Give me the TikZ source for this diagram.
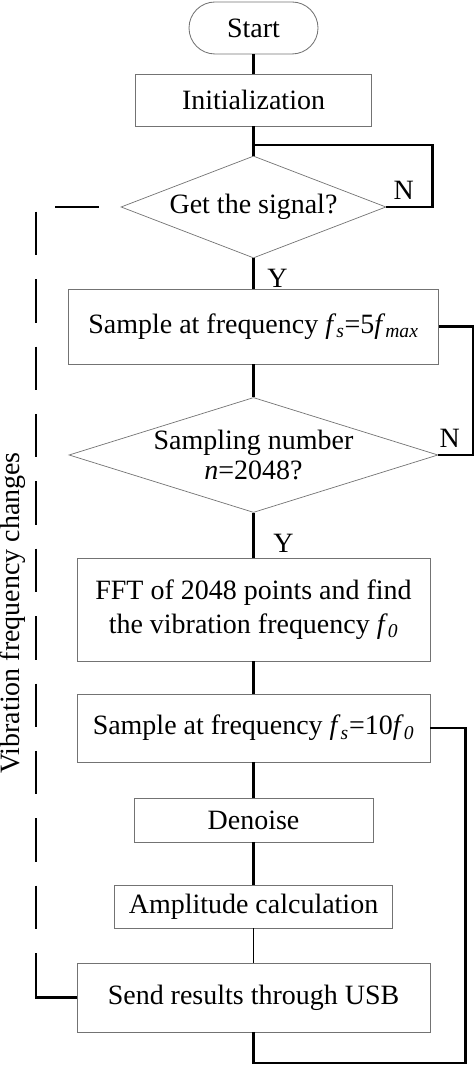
\documentclass[tikz,border=0pt]{standalone}
\usepackage{fontspec}
\setmainfont{Liberation Serif}
\usetikzlibrary{shapes.geometric,positioning}
\newcommand{\fsub}[1]{\textit{f}\textsubscript{\textit{#1}}}

\begin{document}
\begin{tikzpicture}[font=\fontsize{19.9pt}{24pt}\selectfont,
  box/.style={draw=black!55,line width=0.6pt,inner sep=0pt,align=center},
  decision/.style={diamond,draw=black!55,line width=0.5pt,inner xsep=0pt,inner ysep=-3pt,align=center},
  link/.style={line width=1.9pt},
  thinlink/.style={line width=1.1pt},
  vibdash/.style={line width=1.9pt,dash pattern=on 1.0875cm off 0.5975cm,dash phase=1.135cm},
  yn/.style={inner sep=0pt}]
\useasboundingbox (0,0) rectangle (11.85,26.675);
% boxes of the main column
\node[box,rounded corners=0.65cm,minimum width=3.225cm,minimum height=1.3cm] (start) at (6.3375,25.975) {Start};
\node[box,minimum width=5.9cm,minimum height=1.3cm] (init) at (6.3375,24.175) {Initialization};
\node[decision,shape aspect=2.6,minimum width=6.625cm,minimum height=2.55cm] (d1) at (6.3375,21.5) {Get the signal?};
\node[box,minimum width=9.25cm,minimum height=1.875cm] (s1) at (6.3375,18.5125) {Sample at frequency \fsub{s}=5\fsub{max}};
\node[decision,shape aspect=3.21,minimum width=9.225cm,minimum height=2.875cm] (d2) at (6.3375,15.3) {Sampling number\\[-2pt]\textit{n}=2048?};
\node[box,minimum width=8.825cm,minimum height=2.575cm] (fft) at (6.3375,11.4375) {FFT of 2048 points and find\\the vibration frequency \fsub{0}};
\node[box,minimum width=8.825cm,minimum height=1.7cm] (s2) at (6.3375,8.475) {Sample at frequency \fsub{s}=10\fsub{0}};
\node[box,minimum width=5.975cm,minimum height=1.1cm] (dn) at (6.3375,6.175) {Denoise};
\node[box,minimum width=6.95cm,minimum height=1.075cm] (amp) at (6.3375,4.0125) {Amplitude calculation};
\node[box,minimum width=8.825cm,minimum height=1.725cm] (send) at (6.3375,1.7375) {Send results through USB};
\node[rotate=90] (vib) at (0.325,11.35) {Vibration frequency changes};
% Y/N marks
\node[yn,above right=0.175cm and 0.175cm of d1.east] (n1) {N};
\node[yn,above right=0.175cm and 0.025cm of d2.east] (n2) {N};
\node[yn,above right=0.025cm and 0.34cm of s1.north] (y1) {Y};
\node[yn,above right=0.125cm and 0.49cm of fft.north] (y2) {Y};
\coordinate (j1) at (6.3375,23.05);
\coordinate (lp) at (6.3375,0.1);
\coordinate (dc) at (0.9,2.8);
% connectors
\draw[link] (start) -- (init);
\draw[link] (init) -- (d1);
\draw[link] (d1.east) -- ++(1.15,0) |- (j1);
\draw[link] (d1) -- (s1);
\draw[link] (s1) -- (d2);
\draw[link] (s1.east) -- ++(0.85,0) |- (d2.east);
\draw[link] (d2) -- (fft);
\draw[link] (fft) -- (s2);
\draw[link] (s2) -- (dn);
\draw[link] (dn) -- (amp);
\draw[thinlink] (amp) -- (send);
\draw[link] (s2.east) -- ++(0.875,0) |- (lp) -- (send.south);
\draw[vibdash] (d1.west) -| (dc);
\draw[link] (dc) |- (send.west);
\end{tikzpicture}
\end{document}
